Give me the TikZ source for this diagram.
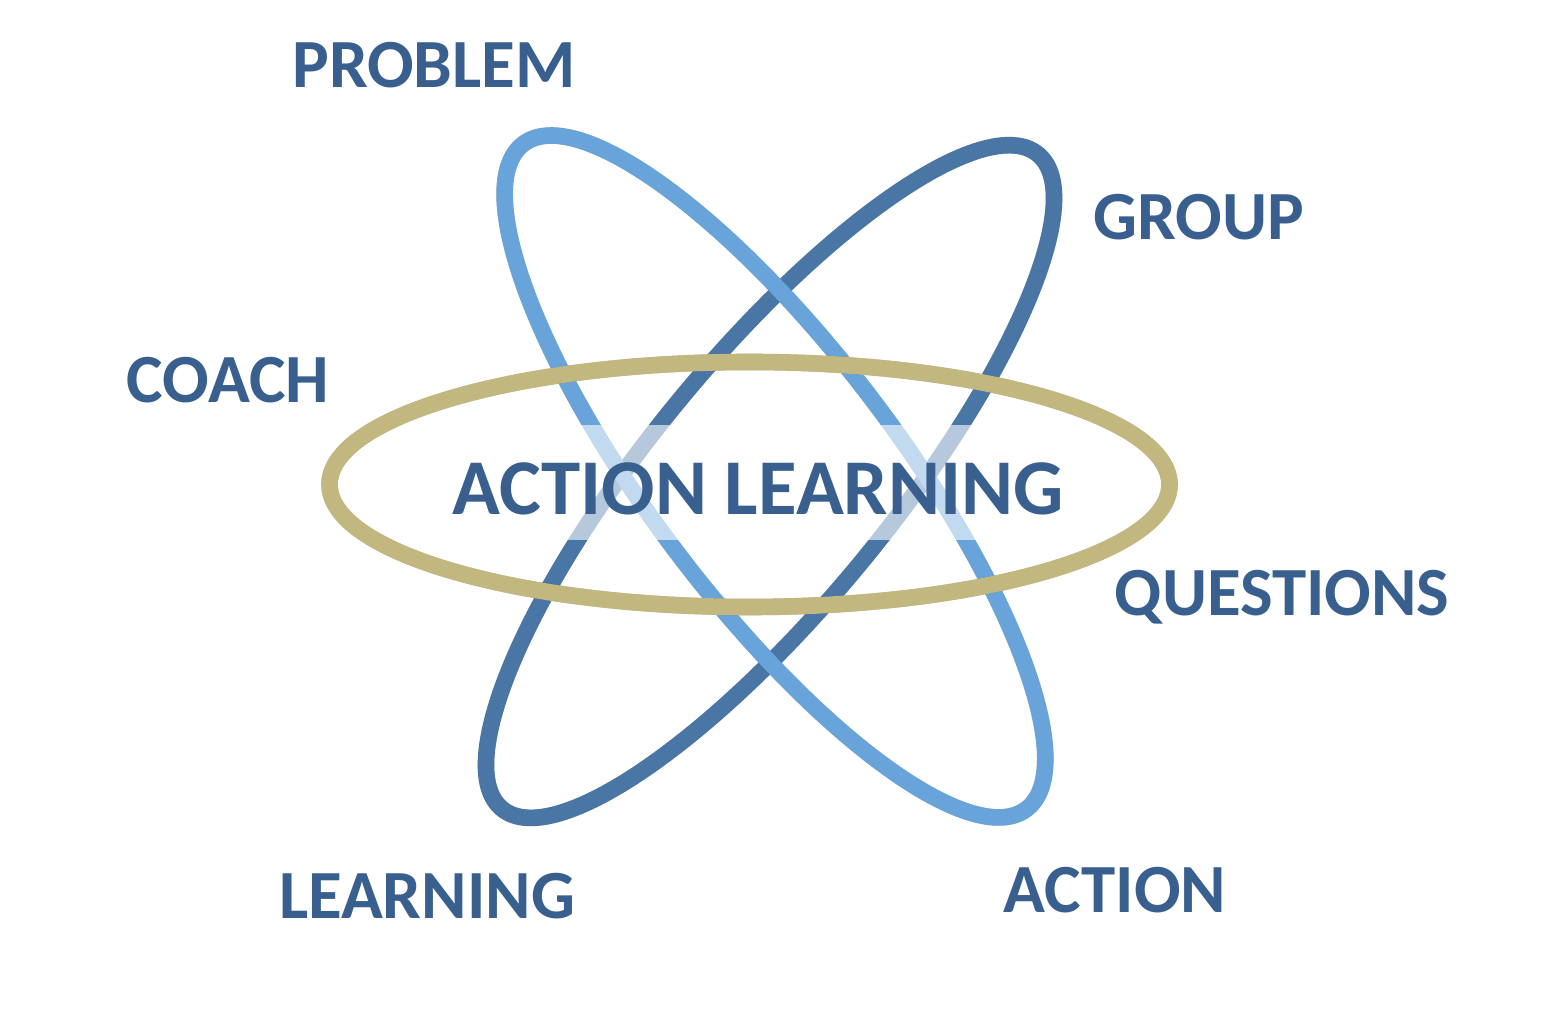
\documentclass[tikz,border=0pt]{standalone}
\usepackage{fontspec}
\setmainfont{Carlito}
\definecolor{txtblue}{RGB}{57,95,143}
\definecolor{darkring}{RGB}{74,118,166}
\definecolor{lightring}{RGB}{104,163,218}
\definecolor{goldring}{RGB}{194,183,127}
\tikzset{
  ring/.style={line width=8.3pt},
  ringshadow/.style={line width=8.3pt, draw=black, draw opacity=0.2},
  lbl/.style={anchor=base, inner sep=0pt, text=txtblue, font=\fontsize{34.5}{34.5}\selectfont\bfseries},
  centerlbl/.style={anchor=base, inner xsep=0pt, inner ysep=0pt, text=txtblue,
    font=\fontsize{39.5}{39.5}\selectfont\bfseries,
    fill=white, fill opacity=0.6, text opacity=1,
    text height=45pt, text depth=12.5pt, minimum width=320pt}
}
\begin{document}
\begin{tikzpicture}[x=0.5pt,y=0.5pt]
\useasboundingbox (0,0) rectangle (1556,1022);
% dark blue ring
\coordinate (cd) at (770,540.5);
\draw[ringshadow, shift={(1.5,-3.5)}, rotate around={50.7:(cd)}] (cd) ellipse [x radius=423, y radius=121.7];
\draw[ring, draw=darkring, rotate around={50.7:(cd)}] (cd) ellipse [x radius=423, y radius=121.7];
% light blue ring
\coordinate (cl) at (775,545.5);
\draw[ringshadow, shift={(1.5,-3.5)}, rotate around={-52.9:(cl)}] (cl) ellipse [x radius=417, y radius=124];
\draw[ring, draw=lightring, rotate around={-52.9:(cl)}] (cl) ellipse [x radius=417, y radius=124];
% gold ring
\coordinate (cg) at (749.5,537.5);
\draw[ringshadow, shift={(1.5,-3.5)}] (cg) ellipse [x radius=420, y radius=122.5];
\draw[ring, draw=goldring] (cg) ellipse [x radius=420, y radius=122.5];
% labels
\node[centerlbl] (al) at (758,507) {ACTION LEARNING};
\node[lbl] (problem) at (434,934) {PROBLEM};
\node[lbl] (group) at (1199,782) {GROUP};
\node[lbl] (coach) at (228,619) {COACH};
\node[lbl] (questions) at (1282,406) {QUESTIONS};
\node[lbl] (learning) at (427,104) {LEARNING};
\node[lbl] (action) at (1115,110) {ACTION};
\end{tikzpicture}
\end{document}
